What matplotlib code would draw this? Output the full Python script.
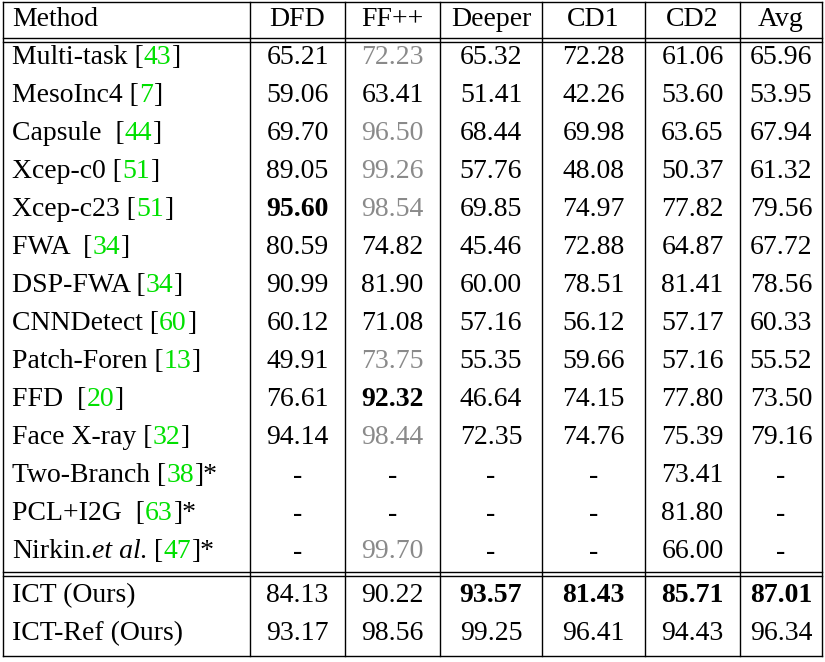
import matplotlib
matplotlib.use("Agg")
import matplotlib.pyplot as plt

headers = ["Method", "DFD", "FF++", "Deeper", "CD1", "CD2", "Avg"]
method_names = ["Multi-task ", "MesoInc4 ", "Capsule  ", "Xcep-c0 ", "Xcep-c23 ", "FWA  ",
                "DSP-FWA ", "CNNDetect ", "Patch-Foren ", "FFD  ", "Face X-ray ",
                "Two-Branch ", "PCL+I2G  ", "Nirkin.", "ICT (Ours)", "ICT-Ref (Ours)"]
cites = ["43", "7", "44", "51", "51", "34", "34", "60", "13", "20", "32", "38", "63", "47", "", ""]
suffix = ["", "", "", "", "", "", "", "", "", "", "", "*", "*", "*", "", ""]
values = [
    ["65.21", "72.23", "65.32", "72.28", "61.06", "65.96"],
    ["59.06", "63.41", "51.41", "42.26", "53.60", "53.95"],
    ["69.70", "96.50", "68.44", "69.98", "63.65", "67.94"],
    ["89.05", "99.26", "57.76", "48.08", "50.37", "61.32"],
    ["95.60", "98.54", "69.85", "74.97", "77.82", "79.56"],
    ["80.59", "74.82", "45.46", "72.88", "64.87", "67.72"],
    ["90.99", "81.90", "60.00", "78.51", "81.41", "78.56"],
    ["60.12", "71.08", "57.16", "56.12", "57.17", "60.33"],
    ["49.91", "73.75", "55.35", "59.66", "57.16", "55.52"],
    ["76.61", "92.32", "46.64", "74.15", "77.80", "73.50"],
    ["94.14", "98.44", "72.35", "74.76", "75.39", "79.16"],
    ["-", "-", "-", "-", "73.41", "-"],
    ["-", "-", "-", "-", "81.80", "-"],
    ["-", "99.70", "-", "-", "66.00", "-"],
    ["84.13", "90.22", "93.57", "81.43", "85.71", "87.01"],
    ["93.17", "98.56", "99.25", "96.41", "94.43", "96.34"],
]
gray_cells = [(0, 1), (2, 1), (3, 1), (4, 1), (8, 1), (10, 1), (13, 1)]
bold_cells = [(4, 0), (9, 1), (14, 2), (14, 3), (14, 4), (14, 5)]

W, H = 825, 662
fig = plt.figure(figsize=(W / 100, H / 100), dpi=100)
ax = fig.add_axes([0, 0, 1, 1])
ax.set_xlim(0, W); ax.set_ylim(H, 0); ax.axis("off")
FONT = "Liberation Serif"; FS = 20
GREEN = "#00e000"; GRAY = "#8a8a8a"

xs = [3, 250, 345, 440, 542, 645, 740, 822]
row_y = [19] + [58 + 38 * i for i in range(14)] + [596, 634]

for yy in [2, 38, 42, 572, 576, 656]:
    ax.plot([xs[0], xs[-1]], [yy, yy], color="black", lw=1)
for xx in xs:
    ax.plot([xx, xx], [2, 656], color="black", lw=1)

ax.text(12, row_y[0], headers[0], fontfamily=FONT, fontsize=FS, va="center", ha="left")
for j in range(6):
    ax.text((xs[j + 1] + xs[j + 2]) / 2, row_y[0], headers[j + 1], fontfamily=FONT,
            fontsize=FS, va="center", ha="center")

fig.canvas.draw()
r = fig.canvas.get_renderer()
inv = ax.transData.inverted()

def put_pieces(x, y, pieces):
    for s, color, style in pieces:
        if not s:
            continue
        t = ax.text(x, y, s, fontfamily=FONT, fontsize=FS, va="center", ha="left",
                    color=color, style=style)
        bb = t.get_window_extent(renderer=r)
        x = inv.transform((bb.x1, bb.y0))[0]

for i in range(16):
    y = row_y[i + 1]
    if i == 13:
        pieces = [("Nirkin.", "black", "normal"), ("et al", "black", "italic"),
                  (". [", "black", "normal"), (cites[i], GREEN, "normal"),
                  ("]" + suffix[i], "black", "normal")]
    elif cites[i]:
        pieces = [(method_names[i] + "[", "black", "normal"), (cites[i], GREEN, "normal"),
                  ("]" + suffix[i], "black", "normal")]
    else:
        pieces = [(method_names[i], "black", "normal")]
    put_pieces(12, y, pieces)
    for j in range(6):
        ax.text((xs[j + 1] + xs[j + 2]) / 2, y, values[i][j], fontfamily=FONT, fontsize=FS,
                va="center", ha="center",
                color=GRAY if (i, j) in gray_cells else "black",
                weight="bold" if (i, j) in bold_cells else "normal")

fig.savefig("out.png", dpi=100)
